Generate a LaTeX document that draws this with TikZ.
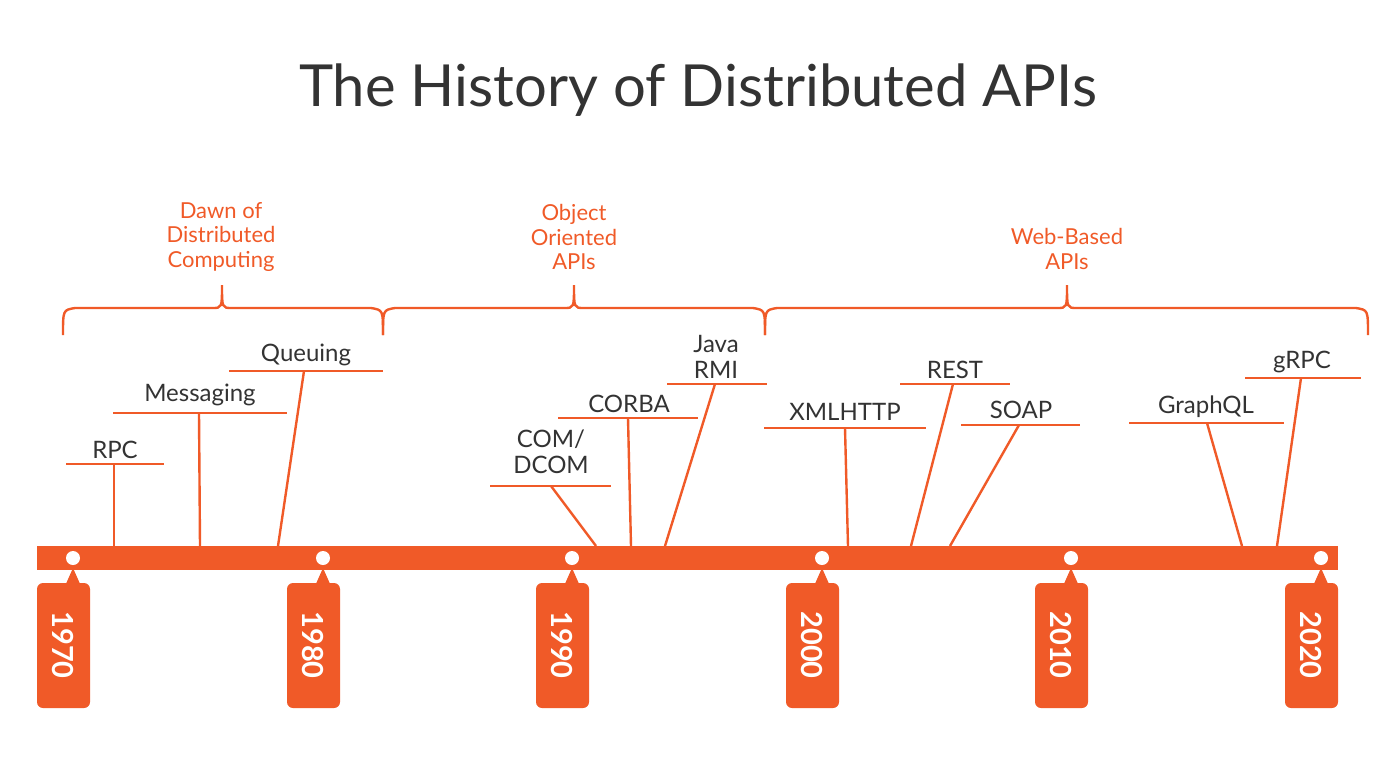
\documentclass[tikz,border=0pt]{standalone}
\usepackage{fontspec}
\setmainfont{Lato}
\begin{document}
\begin{tikzpicture}[x=1pt,y=-1pt,
 lbl/.style={font=\fontsize{24}{26}\selectfont,text=txt,align=center,inner sep=0pt},
 era/.style={font=\fontsize{22}{24.5}\selectfont,text=org,align=center,inner sep=0pt},
 ln/.style={draw=org,line width=2.4pt},
 yr/.style={font=\fontsize{29}{30}\selectfont\bfseries,text=white,rotate=-90,inner sep=0pt}]
\definecolor{org}{HTML}{F05A28}
\definecolor{txt}{HTML}{333333}
\useasboundingbox (0,0) rectangle (1400,769);
\node[font=\fontsize{58}{60}\selectfont,text=txt] (title) at (698,90) {The History of Distributed APIs};
% braces
\foreach \a/\m/\b in {63/222/383, 383/574/765, 765/1067/1368}{
 \draw[org,line width=2.4pt] (\a,335) .. controls (\a,310) .. (\a+12,308) -- (\m-10,308) .. controls (\m,308) .. (\m,285) .. controls (\m,308) .. (\m+10,308) -- (\b-12,308) .. controls (\b,310) .. (\b,335);}
\node[era] (e1) at (221,237) {Dawn of\\Distributed\\Computing};
\node[era] (e2) at (574,237) {Object\\Oriented\\APIs};
\node[era] (e3) at (1067,249) {Web-Based\\APIs};
% bar
\fill[org] (37,546) rectangle (1338,570);
% years
\foreach \x/\y in {73/1970,323/1980,572/1990,822/2000,1071/2010,1321/2020}{
 \fill[org,rounded corners=6pt] (\x-36,583) rectangle (\x+17,708);
 \fill[org] (\x-8,586) -- (\x,568) -- (\x+8,586) -- cycle;
 \fill[white] (\x,558) circle (7);
 \node[yr] (y\y) at (\x-10,645) {\y};}
% items
\foreach \n/\t/\tx/\ty/\ly/\l/\r/\sa/\sb in {
 rpc/RPC/115/450/464/66/164/114/114,
 msg/Messaging/200/395/413/113/287/199/200,
 que/Queuing/306/355/371/229/383/304/278,
 com/{COM/\\DCOM}/551/452/486/490/611/551/596,
 cor/CORBA/629/404/418/558/698/628/631,
 jav/{Java\\RMI}/716/357/384/667/767/715/665,
 xml/XMLHTTP/845/412/428/764/926/845/848,
 rst/REST/955/370/384/900/1010/953/911,
 soa/SOAP/1021/410/425/961/1080/1019/950,
 gql/GraphQL/1206/407/423/1129/1284/1207/1242,
 grp/gRPC/1302/362/378/1245/1361/1301/1277}{
 \node[lbl] (\n) at (\tx,\ty) {\t};
 \coordinate (\n L) at (\l,\ly); \coordinate (\n R) at (\r,\ly);
 \coordinate (\n T) at (\sa,\ly); \coordinate (\n B) at (\sb,546);
 \draw[ln] (\n L) -- (\n R);
 \draw[ln] (\n T) -- (\n B);}
\end{tikzpicture}
\end{document}
